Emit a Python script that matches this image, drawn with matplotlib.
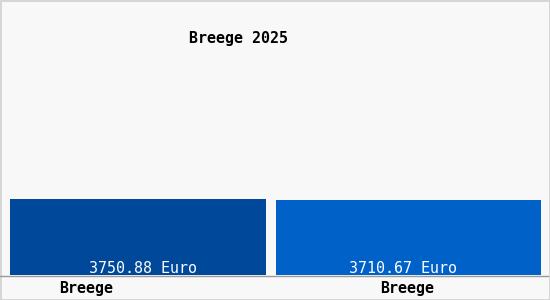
import matplotlib
matplotlib.use("Agg")
import matplotlib.pyplot as plt
from matplotlib.lines import Line2D
from matplotlib.patches import Rectangle

title = "Breege 2025"
categories = ["Breege", "Breege"]
values = [3750.88, 3710.67]
value_labels = ["3750.88 Euro", "3710.67 Euro"]
colors = ["#00489a", "#0062c8"]

W, H = 550, 300
fig = plt.figure(figsize=(W / 100, H / 100), dpi=100, facecolor="#f8f8f8")
ax = fig.add_axes([10 / W, 25 / H, 531 / W, 255 / H])
ax.set_facecolor("#f8f8f8")
ax.patch.set_alpha(0)

xpos = [0, 1]
widths = [0.964, 1.0]
ax.bar(xpos, values, width=widths, align="edge", color=colors, zorder=2)
ax.set_xlim(0, 2)
ax.set_ylim(0, 12585)
for s in ax.spines.values():
    s.set_visible(False)
ax.set_xticks([])
ax.set_yticks([])

font = dict(family="DejaVu Sans Mono", fontweight="bold", fontsize=10.8)
font_val = dict(family="DejaVu Sans Mono", fontweight="normal", fontsize=10.8)

# value labels inside bars near the bottom
label_offsets = [0.02, -0.02]
for x, w, lab, off in zip(xpos, widths, value_labels, label_offsets):
    ax.text(x + w / 2 + off, 2 / 255, lab, ha="center", va="baseline", color="white",
            transform=ax.get_xaxis_transform(), **font_val)

# category labels below the axis
cat_pos = [0.286, 1.495]
for cx, c in zip(cat_pos, categories):
    ax.text(cx, -13 / 255, c, ha="center", va="center", color="black",
            transform=ax.get_xaxis_transform(), clip_on=False, **font)

fig.text(238.5 / W, 1 - 38 / H, title, ha="center", va="center", color="black", **font)

# baseline axis line
fig.add_artist(Line2D([0, 548 / W], [1 - 275.5 / H, 1 - 275.5 / H], color="#9a9a9a", lw=1))
# outer frame
fig.add_artist(Rectangle((0.5 / W, 0.5 / H), (W - 1) / W, (H - 1) / H, fill=False,
                         edgecolor="#d0d0d0", lw=1.2, transform=fig.transFigure))

fig.savefig("out.png", dpi=100, facecolor=fig.get_facecolor())
